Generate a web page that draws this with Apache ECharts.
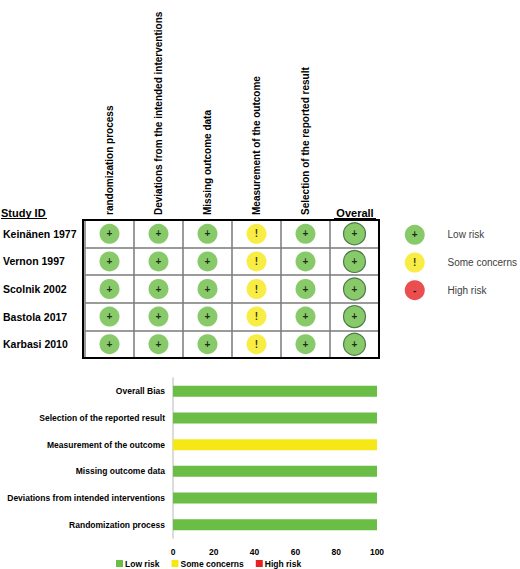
<!DOCTYPE html>
<html>
<head>
<meta charset="utf-8">
<script src="https://cdn.jsdelivr.net/npm/echarts@6/dist/echarts.min.js"></script>
<style>
html,body{margin:0;padding:0;background:#fff;}
#chart{width:520px;height:569px;}
</style>
</head>
<body>
<div id="chart"></div>
<script>
// ---- data ----
const studies = ['Keinänen 1977', 'Vernon 1997', 'Scolnik 2002', 'Bastola 2017', 'Karbasi 2010'];
const domains = ['randomization process', 'Deviations from the intended interventions', 'Missing outcome data',
  'Measurement of the outcome', 'Selection of the reported result', 'Overall'];
// L = low risk, S = some concerns, H = high risk
const judgements = [
  ['L', 'L', 'L', 'S', 'L', 'L'],
  ['L', 'L', 'L', 'S', 'L', 'L'],
  ['L', 'L', 'L', 'S', 'L', 'L'],
  ['L', 'L', 'L', 'S', 'L', 'L'],
  ['L', 'L', 'L', 'S', 'L', 'L']
];
const riskLevels = ['Low risk', 'Some concerns', 'High risk'];
const riskCodes = ['L', 'S', 'H'];

const barDomains = ['Overall Bias', 'Selection of the reported result', 'Measurement of the outcome',
  'Missing outcome data', 'Deviations from intended interventions', 'Randomization process'];
const lowRiskPct = [100, 100, 0, 100, 100, 100];
const someConcernsPct = [0, 0, 100, 0, 0, 0];
const highRiskPct = [0, 0, 0, 0, 0, 0];
const pctMin = 0, pctMax = 100, pctStep = 20;

// ---- styles ----
const FONT = '"Liberation Sans", Arial, sans-serif';
const colorOf = { L: '#6abd45', S: '#f6e816', H: '#e52222' };
const glyphOf = { L: '+', S: '!', H: '-' };

const chart = echarts.init(document.getElementById('chart'), null, { renderer: 'svg' });

const tableData = [];
studies.forEach((s, i) => {
  domains.forEach((d, j) => {
    const code = judgements[i][j];
    const isOverall = j === domains.length - 1;
    tableData.push({
      value: [j, i],
      symbolSize: isOverall ? 22 : 20,
      itemStyle: {
        color: colorOf[code],
        borderColor: isOverall ? '#2f5e2f' : colorOf[code],
        borderWidth: isOverall ? 1.2 : 0
      },
      label: { formatter: glyphOf[code] }
    });
  });
});

const legendData = riskLevels.map((r, k) => ({
  value: [0, k],
  itemStyle: { color: colorOf[riskCodes[k]] },
  label: { formatter: glyphOf[riskCodes[k]] }
}));

const option = {
  animation: false,
  backgroundColor: '#fff',
  textStyle: { fontFamily: FONT },
  grid: [
    { left: 83, top: 220, width: 296, height: 138 },
    { left: 406, top: 221, width: 20, height: 83 },
    { left: 173, top: 378, width: 204, height: 160 }
  ],
  xAxis: [
    {
      gridIndex: 0, type: 'category', data: domains, position: 'top',
      axisLine: { show: false }, axisTick: { show: false },
      splitLine: { show: true, interval: 0, lineStyle: { color: '#7a7a7a', width: 1.5 } },
      axisLabel: {
        rotate: -90, margin: 5, interval: 0, fontFamily: FONT, fontSize: 10, fontWeight: 'bold', color: '#000',
        formatter: v => (v === 'Overall' ? '' : v)
      }
    },
    {
      gridIndex: 1, type: 'category', data: [''], show: false
    },
    {
      gridIndex: 2, type: 'value', min: pctMin, max: pctMax, interval: pctStep,
      axisLine: { show: false }, axisTick: { show: false }, splitLine: { show: false },
      axisLabel: { margin: 9, fontFamily: FONT, fontSize: 8.5, fontWeight: 'bold', color: '#000' }
    }
  ],
  yAxis: [
    {
      gridIndex: 0, type: 'category', data: studies, inverse: true,
      axisLine: { show: false }, axisTick: { show: false },
      splitLine: { show: true, interval: 0, lineStyle: { color: '#7a7a7a', width: 1.5 } },
      axisLabel: { align: 'left', margin: 82, fontFamily: FONT, fontSize: 10.5, fontWeight: 'bold', color: '#000' }
    },
    {
      gridIndex: 1, type: 'category', data: riskLevels, inverse: true, position: 'right',
      axisLine: { show: false }, axisTick: { show: false }, splitLine: { show: false },
      axisLabel: { align: 'left', margin: 24, fontFamily: FONT, fontSize: 10, color: '#404040' }
    },
    {
      gridIndex: 2, type: 'category', data: barDomains, inverse: true,
      axisLine: { show: true, lineStyle: { color: '#dcdcdc', width: 2 } },
      axisTick: { show: false },
      axisLabel: { margin: 8, fontFamily: FONT, fontSize: 8.5, fontWeight: 'bold', color: '#000' }
    }
  ],
  legend: {
    data: riskLevels, left: 116, top: 559, padding: 0, icon: 'rect', itemWidth: 7, itemHeight: 7, itemGap: 12,
    textStyle: { fontFamily: FONT, fontSize: 8.5, fontWeight: 'bold', color: '#000', padding: [0, 0, 0, -3] }
  },
  series: [
    {
      type: 'scatter', xAxisIndex: 0, yAxisIndex: 0, symbol: 'circle', data: tableData,
      label: { show: true, position: 'inside', fontFamily: FONT, fontSize: 10, fontWeight: 'bold', color: '#000' },
      z: 5
    },
    {
      type: 'scatter', xAxisIndex: 1, yAxisIndex: 1, symbol: 'circle', symbolSize: 20, data: legendData,
      label: { show: true, position: 'inside', fontFamily: FONT, fontSize: 10, fontWeight: 'bold', color: '#000' }
    },
    {
      name: riskLevels[0], type: 'bar', xAxisIndex: 2, yAxisIndex: 2, stack: 'r', barWidth: 11,
      itemStyle: { color: colorOf.L }, data: lowRiskPct
    },
    {
      name: riskLevels[1], type: 'bar', xAxisIndex: 2, yAxisIndex: 2, stack: 'r', barWidth: 11,
      itemStyle: { color: colorOf.S }, data: someConcernsPct
    },
    {
      name: riskLevels[2], type: 'bar', xAxisIndex: 2, yAxisIndex: 2, stack: 'r', barWidth: 11,
      itemStyle: { color: colorOf.H }, data: highRiskPct
    }
  ],
  graphic: [
    { type: 'rect', z: 100, silent: true, shape: { x: 83, y: 220, width: 296, height: 138 },
      style: { fill: null, stroke: '#000', lineWidth: 2 } },
    { type: 'text', x: 1, y: 207, style: { text: 'Study ID', font: 'bold 11px ' + FONT, fill: '#000' } },
    { type: 'line', shape: { x1: 1, y1: 218.5, x2: 47, y2: 218.5 }, style: { stroke: '#000', lineWidth: 1 } },
    { type: 'text', x: 355, y: 207, style: { text: domains[domains.length - 1], align: 'center', font: 'bold 11px ' + FONT, fill: '#000' } },
    { type: 'line', shape: { x1: 334, y1: 218.5, x2: 376, y2: 218.5 }, style: { stroke: '#000', lineWidth: 1 } }
  ]
};
chart.setOption(option);
</script>
</body>
</html>
